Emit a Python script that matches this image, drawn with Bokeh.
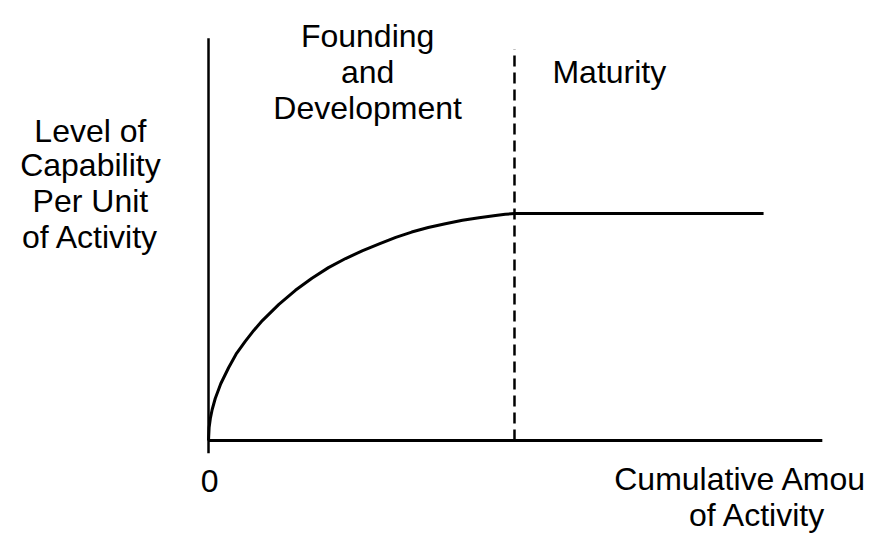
from bokeh.plotting import figure
from bokeh.models import Range1d, Label
from bokeh.embed import file_html
from bokeh.resources import INLINE

# Curve: level of capability vs cumulative activity (arbitrary units)
curve_x = [0, 0.01, 0.03, 0.06, 0.11, 0.20, 0.33, 0.45, 0.60, 0.74, 0.88, 1.15, 1.42, 1.69,
           1.96, 2.24, 2.52, 2.79, 3.06, 3.32, 3.59, 3.87, 4.15, 4.42, 4.69, 4.85, 5.0, 9.07]
curve_y = [0, 0.34, 0.58, 0.82, 1.11, 1.50, 1.93, 2.28, 2.62, 2.91, 3.17, 3.60, 3.97, 4.29,
           4.57, 4.81, 5.02, 5.20, 5.37, 5.51, 5.63, 5.73, 5.82, 5.89, 5.95, 5.98, 6.0, 6.0]

# Phase boundary (founding/development -> maturity)
boundary_x = 5.0
boundary_top = 10.34

# Axis extents
x_axis_end = 10.03
y_axis_top = 10.63
y_axis_bottom = -0.34

# Text labels: (text, x, y, align)
phase_labels = [("Founding", 2.60, 10.70, "center"),
                ("and", 2.60, 9.75, "center"),
                ("Development", 2.60, 8.80, "center"),
                ("Maturity", 5.62, 9.73, "left")]
y_title = [("Level of", -1.93, 8.19), ("Capability", -1.93, 7.27),
           ("Per Unit", -1.93, 6.32), ("of Activity", -1.93, 5.39)]
x_title = [("Cumulative Amount", 6.63, -1.03, "left"), ("of Activity", 8.97, -1.96, "center")]
zero_label = ("0", 0.02, -1.08)

FONT = "Liberation Sans"
SIZE = "32px"

p = figure(width=866, height=541, output_backend="svg", toolbar_location=None,
           x_range=Range1d(-3.399, 10.752), y_range=Range1d(-2.670, 11.631),
           min_border=0, min_border_left=0, min_border_right=0,
           min_border_top=0, min_border_bottom=0)
p.axis.visible = False
p.xgrid.visible = False
p.ygrid.visible = False
p.outline_line_color = None
p.background_fill_color = "white"
p.border_fill_color = "white"

# axes drawn as lines
p.segment(x0=[0], y0=[y_axis_bottom], x1=[0], y1=[y_axis_top], line_color="black", line_width=2.5)
p.segment(x0=[0], y0=[0], x1=[x_axis_end], y1=[0], line_color="black", line_width=3)

# dashed boundary
p.segment(x0=[boundary_x], y0=[0], x1=[boundary_x], y1=[boundary_top],
          line_color="black", line_width=2.5, line_dash="11 6")

# curve
p.line(curve_x, curve_y, line_color="black", line_width=3, line_join="round")

def add_label(t, x, y, align="center"):
    p.add_layout(Label(x=x, y=y, text=t, text_font=FONT, text_font_size=SIZE,
                       text_color="black", text_align=align, text_baseline="alphabetic"))

for t, x, y, a in phase_labels:
    add_label(t, x, y, a)
for t, x, y in y_title:
    add_label(t, x, y)
for t, x, y, a in x_title:
    add_label(t, x, y, a)
add_label(*zero_label)

open("out.html", "w").write(file_html(p, INLINE))
